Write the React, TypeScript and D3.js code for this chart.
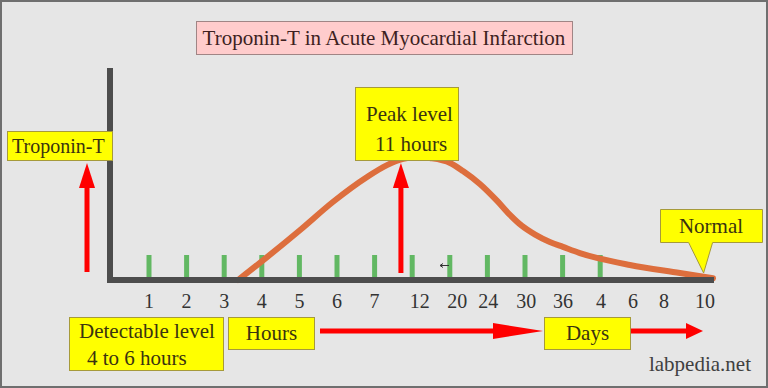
import React from "react";
import * as d3 from "d3";

// ---- data ----
const tickSlots = [0, 1, 2, 3, 4, 5, 6, 7, 8, 9, 10, 11, 12];
const tickLabels = ["1", "2", "3", "4", "5", "6", "7", "12", "20", "24", "30", "36", "4", "6", "8", "10"];
const labelSlots = [0, 1, 2, 3, 4, 5, 6, 7.2, 8.2, 9.02, 10.03, 11.01, 12.02, 12.87, 13.7, 14.79];
const curveSlots = [2.37, 3.14, 4.02, 4.89, 5.8, 6.33, 6.76, 7.1, 7.47, 8.01, 8.35, 8.8, 9.26, 9.6, 9.92, 10.27, 10.66, 11.01, 11.46, 11.91, 12.79, 14.12, 15.0];
const curveLevels = [0, 10.8, 23.6, 36.8, 48.6, 54.2, 57.1, 58, 57.5, 55.2, 51.4, 45.3, 37.3, 30.7, 25.5, 21.4, 17.9, 15.6, 12.7, 10.4, 7.1, 3.3, 0.8];
const peakSlot = 6.7;
const normalSlot = 14.75;
const title = "Troponin-T in Acute Myocardial Infarction";

const W = 768;
const H = 388;
const SERIF = "'Liberation Serif', 'Times New Roman', 'DejaVu Serif', serif";
const BOX_FILL = "#ffff00";
const BOX_STROKE = "#a69a3a";
const BOX_TEXT = "#3a3310";
const RED = "#ff0000";

function VArrow({ x, y1, y2 }: { x: number; y1: number; y2: number }) {
  const headLen = 25;
  const headW = 8;
  return (
    <g>
      <line x1={x} y1={y1} x2={x} y2={y2 + headLen - 1} stroke={RED} strokeWidth={5} />
      <path d={`M${x - headW},${y2 + headLen} L${x},${y2} L${x + headW},${y2 + headLen} Z`} fill={RED} />
    </g>
  );
}

function HArrow({ x1, x2, y, headLen }: { x1: number; x2: number; y: number; headLen: number }) {
  const headW = 8;
  return (
    <g>
      <line x1={x1} y1={y} x2={x2 - headLen + 1} y2={y} stroke={RED} strokeWidth={5} />
      <path d={`M${x2 - headLen},${y - headW} L${x2},${y} L${x2 - headLen},${y + headW} Z`} fill={RED} />
    </g>
  );
}

export default function App() {
  const x = d3.scaleLinear().domain([0, 15]).range([149, 713]);
  const y = d3.scaleLinear().domain([0, 100]).range([280, 68]);

  const pts: [number, number][] = curveSlots.map((s, i) => [s, curveLevels[i]]);
  const line = d3
    .line<[number, number]>()
    .x((d) => x(d[0]))
    .y((d) => y(d[1]))
    .curve(d3.curveMonotoneX);

  const axisX0 = 107;
  const axisX1 = 714;
  const baseY = y(0);
  const nx = x(normalSlot);
  const tStyle = { fontFamily: SERIF };

  return (
    <svg
      width={W}
      height={H}
      viewBox={`0 0 ${W} ${H}`}
      style={{ position: "absolute", left: 0, top: 0, display: "block", fontFamily: SERIF }}
    >
      <rect x={1} y={1} width={W - 2} height={H - 2} fill="#e6e6e6" stroke="#6f6f6f" strokeWidth={2} />

      {/* title */}
      <rect x={196.5} y={21.5} width={376} height={33} fill="#ffcccc" stroke="#a08585" strokeWidth={1} />
      <text x={384} y={45} textAnchor="middle" fontSize={21} fill="#3d1f1f" style={tStyle}>
        {title}
      </text>

      {/* green ticks */}
      {tickSlots.map((s) => (
        <line key={"t" + s} x1={x(s)} x2={x(s)} y1={255} y2={baseY} stroke="#62b863" strokeWidth={5} />
      ))}

      {/* curve */}
      <path d={line(pts) || ""} fill="none" stroke="#dd6e3d" strokeWidth={6} strokeLinecap="round" />

      {/* axes */}
      <line x1={110} x2={110} y1={y(100)} y2={283} stroke="#4d4d4d" strokeWidth={6} />
      <line x1={axisX0} x2={axisX1} y1={baseY} y2={baseY} stroke="#4d4d4d" strokeWidth={6} />

      {/* small left arrow mark */}
      <g stroke="#333" strokeWidth={1} fill="none">
        <line x1={440} x2={449} y1={265.5} y2={265.5} />
        <path d="M443,263.5 L440,265.5 L443,267.5" />
      </g>

      {/* tick labels */}
      {tickLabels.map((t, i) => (
        <text key={"l" + i} x={x(labelSlots[i])} y={308} textAnchor="middle" fontSize={20} fill="#333333" style={tStyle}>
          {t}
        </text>
      ))}

      {/* Troponin-T box + arrow */}
      <rect x={7.5} y={131.5} width={105} height={29} fill={BOX_FILL} stroke={BOX_STROKE} strokeWidth={1} />
      <text x={12} y={153} fontSize={20} fill={BOX_TEXT} style={tStyle}>
        Troponin-T
      </text>
      <VArrow x={87} y1={272} y2={163} />

      {/* Peak level */}
      <rect x={355.5} y={87.5} width={103} height={73} fill={BOX_FILL} stroke={BOX_STROKE} strokeWidth={1} />
      <text x={366} y={121} fontSize={21} fill={BOX_TEXT} style={tStyle}>
        Peak level
      </text>
      <text x={375} y={151} fontSize={21} fill={BOX_TEXT} style={tStyle}>
        11 hours
      </text>
      <VArrow x={x(peakSlot)} y1={273} y2={163} />

      {/* Normal callout */}
      <path
        d={`M660.5,209.5 H762.5 V242.5 H${nx + 9} L${nx},273 L${nx - 15},242.5 H660.5 Z`}
        fill={BOX_FILL}
        stroke={BOX_STROKE}
        strokeWidth={1}
      />
      <text x={711} y={233} textAnchor="middle" fontSize={21} fill={BOX_TEXT} style={tStyle}>
        Normal
      </text>

      {/* Detectable level */}
      <rect x={69.5} y={317.5} width={154} height={53} fill={BOX_FILL} stroke={BOX_STROKE} strokeWidth={1} />
      <text x={79} y={338} fontSize={21} fill={BOX_TEXT} style={tStyle}>
        Detectable level
      </text>
      <text x={87} y={365} fontSize={21} fill={BOX_TEXT} style={tStyle}>
        4 to 6 hours
      </text>

      {/* Hours */}
      <rect x={228.5} y={317.5} width={86} height={32} fill={BOX_FILL} stroke={BOX_STROKE} strokeWidth={1} />
      <text x={271.5} y={340} textAnchor="middle" fontSize={21} fill={BOX_TEXT} style={tStyle}>
        Hours
      </text>
      <HArrow x1={320} x2={543} y={331} headLen={50} />

      {/* Days */}
      <rect x={544.5} y={317.5} width={86} height={32} fill={BOX_FILL} stroke={BOX_STROKE} strokeWidth={1} />
      <text x={587.5} y={340} textAnchor="middle" fontSize={21} fill={BOX_TEXT} style={tStyle}>
        Days
      </text>
      <HArrow x1={631} x2={703} y={331} headLen={17} />

      <text x={700} y={371} textAnchor="middle" fontSize={21} fill="#404040" style={tStyle}>
        labpedia.net
      </text>
    </svg>
  );
}
